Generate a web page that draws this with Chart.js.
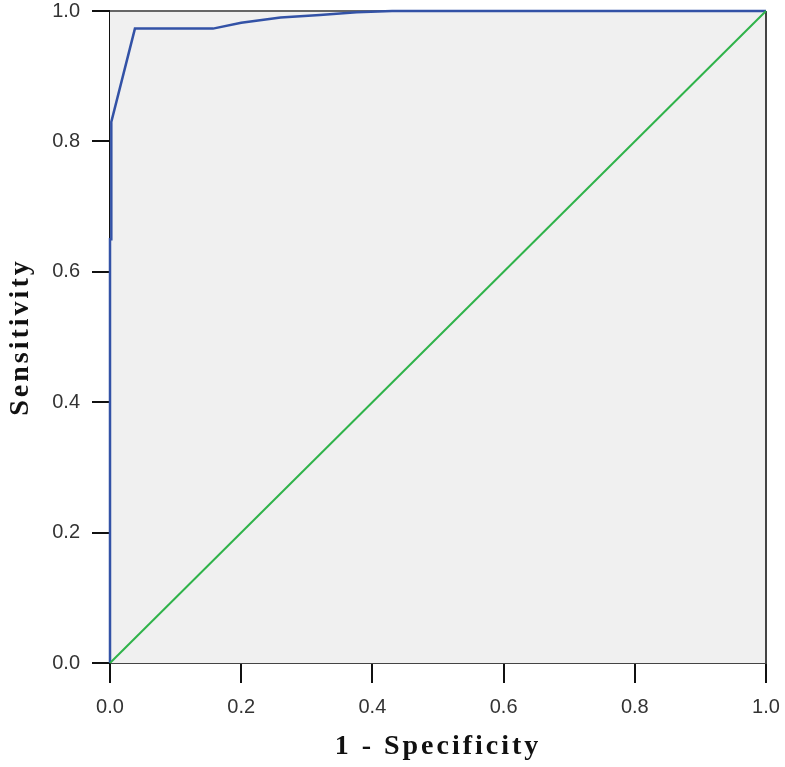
<!DOCTYPE html>
<html>
<head>
<meta charset="utf-8">
<script src="https://cdn.jsdelivr.net/npm/chart.js@4/dist/chart.umd.min.js"></script>
<style>
  html, body { margin: 0; padding: 0; background: #ffffff; }
  #roc { display: block; }
</style>
</head>
<body>
<canvas id="roc" width="785" height="767"></canvas>
<script>
// ROC curve points
const rocFpr = [0, 0, 0.002, 0.002, 0.038, 0.157, 0.2, 0.26, 0.32, 0.376, 0.43, 1.0];
const rocTpr = [0, 0.65, 0.65, 0.83, 0.973, 0.973, 0.982, 0.99, 0.994, 0.998, 1.0, 1.0];

// reference line
const refFpr = [0, 1];
const refTpr = [0, 1];

const xTitle = "1 - Specificity";
const yTitle = "Sensitivity";

const toPoints = (xs, ys) => xs.map((x, i) => ({ x: x, y: ys[i] }));

// grey plot background plus the top/right frame lines
const plotFrame = {
  id: "plotFrame",
  beforeDatasetsDraw(chart) {
    const { ctx, chartArea: a } = chart;
    ctx.save();
    ctx.fillStyle = "#f0f0f0";
    ctx.fillRect(a.left, a.top, a.right - a.left, a.bottom - a.top);
    ctx.lineWidth = 2;
    ctx.strokeStyle = "#666666";
    ctx.beginPath();
    ctx.moveTo(a.left, a.top);
    ctx.lineTo(a.right, a.top);
    ctx.stroke();
    ctx.strokeStyle = "#444444";
    ctx.beginPath();
    ctx.moveTo(a.right, a.top);
    ctx.lineTo(a.right, a.bottom);
    ctx.stroke();
    ctx.restore();
  },
  afterDraw(chart) {
    // axis titles drawn by hand so they can be letter-spaced like the original
    const { ctx, chartArea: a } = chart;
    ctx.save();
    ctx.fillStyle = "#111111";
    ctx.font = "bold 28px 'Liberation Serif'";
    ctx.textAlign = "center";
    ctx.textBaseline = "middle";
    ctx.letterSpacing = "3px";
    ctx.fillText(xTitle, (a.left + a.right) / 2, 747);
    ctx.translate(21, (a.top + a.bottom) / 2);
    ctx.rotate(-Math.PI / 2);
    ctx.letterSpacing = "3px";
    ctx.fillText(yTitle, 0, 0);
    ctx.restore();
  },
};

const tickFont = { family: "'Liberation Sans'", size: 20 };

new Chart(document.getElementById("roc"), {
  type: "scatter",
  data: {
    datasets: [
      {
        label: "Reference",
        data: toPoints(refFpr, refTpr),
        showLine: true,
        borderColor: "#2fb34a",
        borderWidth: 2,
        pointRadius: 0,
        clip: false,
      },
      {
        label: "ROC",
        data: toPoints(rocFpr, rocTpr),
        showLine: true,
        borderColor: "#3352a6",
        borderWidth: 2.5,
        pointRadius: 0,
        clip: false,
      },
    ],
  },
  options: {
    responsive: false,
    animation: false,
    devicePixelRatio: 1,
    layout: { padding: { top: 11, right: 19, left: 0, bottom: 0 } },
    plugins: {
      legend: { display: false },
      tooltip: { enabled: false },
    },
    scales: {
      x: {
        type: "linear",
        min: 0,
        max: 1,
        afterFit: (scale) => {
          scale.height = 104;
          scale.paddingLeft = 0;
          scale.paddingRight = 0;
        },
        border: { display: true, color: "#444444", width: 2 },
        grid: {
          drawOnChartArea: false,
          drawTicks: true,
          tickLength: 20,
          color: "#111111",
          lineWidth: 2,
        },
        ticks: {
          stepSize: 0.2,
          color: "#333333",
          font: tickFont,
          padding: 12,
          maxRotation: 0,
          callback: (v) => v.toFixed(1),
        },
      },
      y: {
        type: "linear",
        min: 0,
        max: 1,
        afterFit: (scale) => {
          scale.width = 110;
          scale.paddingTop = 0;
          scale.paddingBottom = 0;
        },
        border: { display: true, color: "#111111", width: 2 },
        grid: {
          drawOnChartArea: false,
          drawTicks: true,
          tickLength: 18,
          color: "#111111",
          lineWidth: 2,
        },
        ticks: {
          stepSize: 0.2,
          color: "#333333",
          font: tickFont,
          padding: 12,
          callback: (v) => v.toFixed(1),
        },
      },
    },
  },
  plugins: [plotFrame],
});
</script>
</body>
</html>
